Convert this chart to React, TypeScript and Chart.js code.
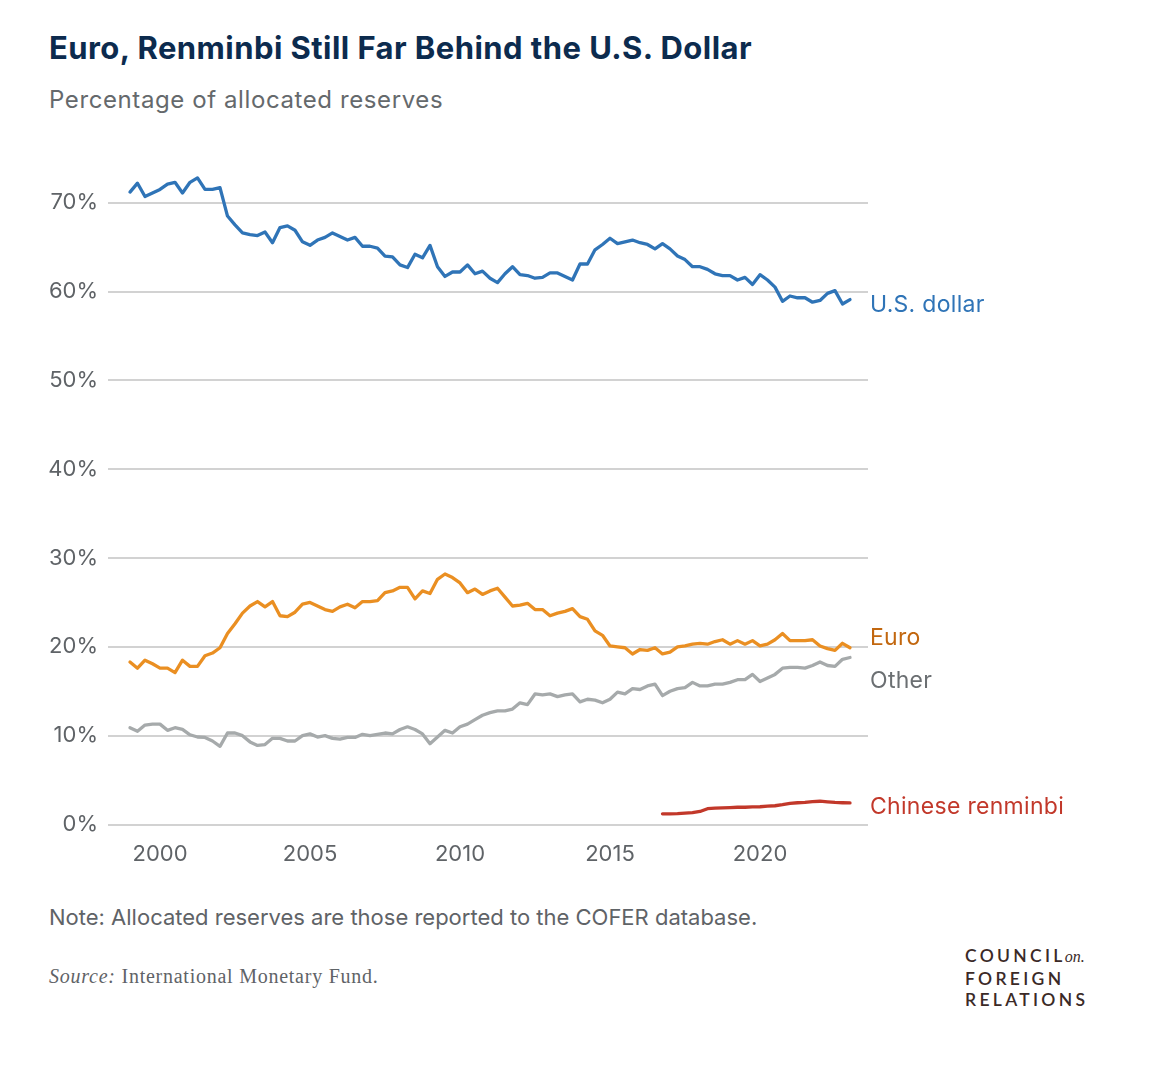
import React, { useEffect, useRef } from "react";
import { Chart, registerables } from "chart.js";

Chart.register(...registerables);

// ---- Data (IMF COFER, share of allocated reserves, %) ----
const firstYear = 1999;
const lastYear = 2023;
const lastYearQuarters = 1;

const quarterLabels: string[] = [];
for (let y = firstYear; y <= lastYear; y++) {
  const n = y === lastYear ? lastYearQuarters : 4;
  for (let q = 1; q <= n; q++) quarterLabels.push(`${y} Q${q}`);
}

const usDollar = [
  71.2, 72.2, 70.7, 71.1,
  71.5, 72.1, 72.3, 71.1,
  72.3, 72.8, 71.5, 71.5,
  71.7, 68.5, 67.5, 66.6,
  66.4, 66.3, 66.7, 65.5,
  67.2, 67.4, 66.9, 65.6,
  65.2, 65.8, 66.1, 66.6,
  66.2, 65.8, 66.1, 65.1,
  65.1, 64.9, 64.0, 63.9,
  63.0, 62.7, 64.2, 63.8,
  65.2, 62.8, 61.7, 62.2,
  62.2, 63.0, 62.0, 62.3,
  61.5, 61.0, 62.0, 62.8,
  61.9, 61.8, 61.5, 61.6,
  62.1, 62.1, 61.7, 61.3,
  63.1, 63.1, 64.7, 65.3,
  66.0, 65.4, 65.6, 65.8,
  65.5, 65.3, 64.8, 65.4,
  64.8, 64.0, 63.6, 62.8,
  62.8, 62.5, 62.0, 61.8,
  61.8, 61.3, 61.6, 60.8,
  61.9, 61.3, 60.5, 58.9,
  59.5, 59.3, 59.3, 58.8,
  59.0, 59.8, 60.1, 58.6,
  59.1,
];

const euro = [
  18.3, 17.6, 18.5, 18.1,
  17.6, 17.6, 17.1, 18.5,
  17.8, 17.8, 19.0, 19.3,
  19.9, 21.5, 22.6, 23.8,
  24.6, 25.1, 24.5, 25.1,
  23.5, 23.4, 23.9, 24.8,
  25.0, 24.6, 24.2, 24.0,
  24.5, 24.8, 24.4, 25.1,
  25.1, 25.2, 26.1, 26.3,
  26.7, 26.7, 25.4, 26.3,
  26.0, 27.6, 28.2, 27.8,
  27.2, 26.1, 26.5, 25.9,
  26.3, 26.6, 25.6, 24.6,
  24.7, 24.9, 24.2, 24.2,
  23.5, 23.8, 24.0, 24.3,
  23.4, 23.1, 21.8, 21.3,
  20.1, 20.0, 19.9, 19.2,
  19.7, 19.6, 19.9, 19.2,
  19.4, 20.0, 20.1, 20.3,
  20.4, 20.3, 20.6, 20.8,
  20.3, 20.7, 20.3, 20.7,
  20.1, 20.3, 20.8, 21.5,
  20.7, 20.7, 20.7, 20.8,
  20.1, 19.8, 19.6, 20.4,
  19.9,
];

const other = [
  10.9, 10.5, 11.2, 11.3,
  11.3, 10.6, 10.9, 10.7,
  10.1, 9.85, 9.8, 9.4,
  8.8, 10.3, 10.3, 10.0,
  9.3, 8.9, 9.0, 9.7,
  9.7, 9.4, 9.4, 10.0,
  10.2, 9.85, 10.0, 9.7,
  9.6, 9.8, 9.8, 10.15,
  10.0, 10.15, 10.3, 10.2,
  10.7, 11.0, 10.7, 10.2,
  9.1, 9.85, 10.6, 10.3,
  11.0, 11.3, 11.8, 12.3,
  12.6, 12.8, 12.8, 13.0,
  13.7, 13.5, 14.7, 14.6,
  14.7, 14.4, 14.6, 14.7,
  13.8, 14.1, 14.0, 13.7,
  14.1, 14.9, 14.7, 15.3,
  15.2, 15.6, 15.8, 14.5,
  15.0, 15.3, 15.4, 16.0,
  15.6, 15.6, 15.8, 15.8,
  16.0, 16.3, 16.3, 16.9,
  16.1, 16.5, 16.9, 17.6,
  17.7, 17.7, 17.6, 17.9,
  18.3, 17.9, 17.8, 18.6,
  18.8,
];

// Renminbi reported separately from 2016 Q4
const renminbiFirstQuarter = "2016 Q4";
const renminbi = [
  1.2,
  1.2, 1.22, 1.27, 1.33,
  1.47, 1.78, 1.84, 1.88,
  1.91, 1.94, 1.94, 1.98,
  2.0, 2.06, 2.11, 2.23,
  2.38, 2.45, 2.48, 2.58,
  2.62, 2.55, 2.48, 2.45,
  2.43,
];

const xTickYears = [2000, 2005, 2010, 2015, 2020];
const yTickValues = [0, 10, 20, 30, 40, 50, 60, 70];

const seriesLabels = {
  usd: "U.S. dollar",
  euro: "Euro",
  other: "Other",
  rmb: "Chinese renminbi",
};

// ---- helpers ----
function quarterToX(label: string): number {
  const [y, q] = label.split(" Q");
  return Number(y) + (Number(q) - 1) / 4;
}

function toPoints(values: number[], startLabel: string) {
  const start = quarterLabels.indexOf(startLabel);
  return values.map((v, i) => ({ x: quarterToX(quarterLabels[start + i]), y: v }));
}

const FONT = "Inter, 'Noto Sans', sans-serif";

export default function App() {
  const canvasRef = useRef<HTMLCanvasElement | null>(null);

  useEffect(() => {
    document.body.style.margin = "0";
    const canvas = canvasRef.current;
    if (!canvas) return;
    const chart = new Chart(canvas, {
      type: "line",
      data: {
        datasets: [
          {
            label: seriesLabels.usd,
            data: toPoints(usDollar, quarterLabels[0]),
            borderColor: "#2f74b7",
          },
          {
            label: seriesLabels.euro,
            data: toPoints(euro, quarterLabels[0]),
            borderColor: "#ea8f22",
          },
          {
            label: seriesLabels.other,
            data: toPoints(other, quarterLabels[0]),
            borderColor: "#a6aaab",
          },
          {
            label: seriesLabels.rmb,
            data: toPoints(renminbi, renminbiFirstQuarter),
            borderColor: "#c2382a",
          },
        ],
      },
      options: {
        animation: false,
        responsive: false,
        maintainAspectRatio: false,
        layout: { padding: { left: 0, right: 298, top: 23.2, bottom: 35.5 } },
        plugins: {
          legend: { display: false },
          tooltip: { enabled: false },
        },
        elements: {
          point: { radius: 0, hoverRadius: 0 },
          line: {
            borderWidth: 3.3,
            tension: 0,
            borderJoinStyle: "round",
            borderCapStyle: "round",
            fill: false,
          },
        },
        scales: {
          x: {
            type: "linear",
            min: 1998.267,
            max: 2023.6,
            grid: { display: false },
            border: { display: false },
            afterBuildTicks: (s: any) => {
              s.ticks = xTickYears.map((v) => ({ value: v }));
            },
            afterFit: (s: any) => {
              s.height = 40;
            },
            ticks: {
              autoSkip: false,
              maxRotation: 0,
              padding: 9,
              color: "#5f6367",
              font: { family: FONT, size: 22 },
              callback: (v: any) => String(v),
            },
          },
          y: {
            type: "linear",
            min: 0,
            max: 74.45,
            grid: { color: "#d2d2d2", lineWidth: 2, drawTicks: false },
            border: { display: false },
            afterBuildTicks: (s: any) => {
              s.ticks = yTickValues.map((v) => ({ value: v }));
            },
            afterFit: (s: any) => {
              s.width = 108;
            },
            ticks: {
              padding: 10,
              color: "#5f6367",
              font: { family: FONT, size: 22 },
              callback: (v: any) => `${v}%`,
            },
          },
        },
      },
    });
    return () => chart.destroy();
  }, []);

  const abs = (style: React.CSSProperties): React.CSSProperties => ({
    position: "absolute",
    whiteSpace: "nowrap",
    margin: 0,
    ...style,
  });

  const labelStyle = (top: number, color: string) =>
    abs({ left: 870, top, fontSize: 23, lineHeight: "23px", letterSpacing: "0.3px", color });

  return (
    <div
      style={{
        position: "absolute",
        left: 0,
        top: 0,
        width: 1166,
        height: 1082,
        background: "#ffffff",
        fontFamily: FONT,
        overflow: "hidden",
      }}
    >
      <div
        style={abs({
          left: 49,
          top: 32.4,
          fontSize: 31,
          lineHeight: "31px",
          fontWeight: 700,
          letterSpacing: "0.45px",
          color: "#0c2b4e",
        })}
      >
        Euro, Renminbi Still Far Behind the U.S. Dollar
      </div>
      <div
        style={abs({
          left: 49,
          top: 87.6,
          fontSize: 24,
          lineHeight: "24px",
          letterSpacing: "0.6px",
          color: "#65696c",
        })}
      >
        Percentage of allocated reserves
      </div>

      <canvas
        ref={canvasRef}
        width={1166}
        height={760}
        style={{ position: "absolute", left: 0, top: 140, width: 1166, height: 760 }}
      />

      <div style={labelStyle(293, "#2f74b7")}>{seriesLabels.usd}</div>
      <div style={labelStyle(626, "#c2670f")}>{seriesLabels.euro}</div>
      <div style={labelStyle(669, "#6b6f72")}>{seriesLabels.other}</div>
      <div style={labelStyle(795, "#c2382a")}>{seriesLabels.rmb}</div>

      <div
        style={abs({
          left: 49,
          top: 906,
          fontSize: 22,
          lineHeight: "22px",
          color: "#5f6367",
        })}
      >
        Note: Allocated reserves are those reported to the COFER database.
      </div>
      <div
        style={abs({
          left: 49,
          top: 966,
          fontSize: 20,
          lineHeight: "20px",
          letterSpacing: "0.75px",
          color: "#5f6367",
          fontFamily: "'Liberation Serif', 'DejaVu Serif', serif",
        })}
      >
        <i>Source:</i> International Monetary Fund.
      </div>

      <div
        style={abs({
          left: 965,
          top: 945,
          fontFamily: "Lato, 'Noto Sans', sans-serif",
          fontSize: 17.5,
          fontWeight: 600,
          lineHeight: "21.5px",
          letterSpacing: "3.3px",
          color: "#3b2a27",
        })}
      >
        <div>
          COUNCIL
          <span
            style={{
              fontFamily: "'Liberation Serif', serif",
              fontStyle: "italic",
              fontWeight: 400,
              fontSize: 16,
              letterSpacing: "0px",
              marginLeft: -1,
            }}
          >
            on.
          </span>
        </div>
        <div>FOREIGN</div>
        <div>RELATIONS</div>
      </div>
    </div>
  );
}
